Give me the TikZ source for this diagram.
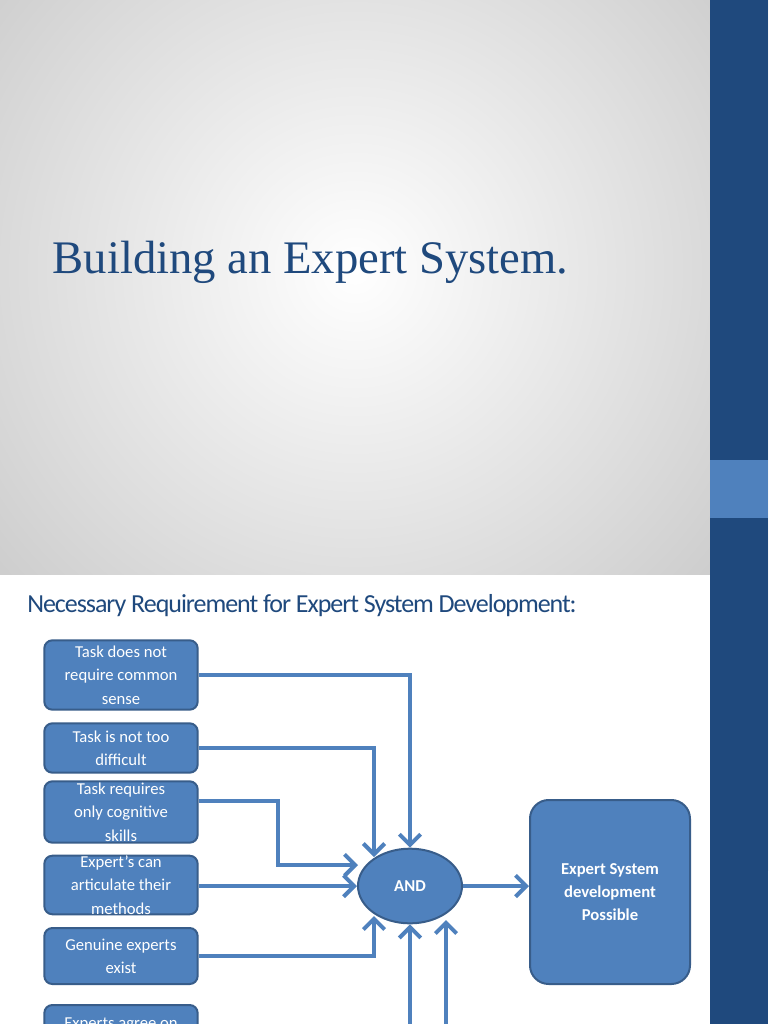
\documentclass[tikz,border=0pt]{standalone}
\usepackage{fontspec}
\setmainfont{Carlito}
\newfontfamily\titlefont{Liberation Serif}
\usetikzlibrary{arrows.meta,shapes.geometric}
\definecolor{sbblue}{HTML}{1F497D}
\definecolor{lblue}{HTML}{4F81BD}
\definecolor{dblue}{HTML}{385D8A}
\tikzset{
 req/.style={draw=dblue,line width=1.5pt,fill=lblue,rounded corners=6pt,minimum width=115pt,align=center,text=white,font=\fontsize{12.5}{17.5}\selectfont,inner sep=0pt},
 conn/.style={draw=lblue,line width=3pt,-{Straight Barb[length=8pt,width=16pt,line width=3pt]}},
}
\begin{document}
\begin{tikzpicture}[x=0.75pt,y=-0.75pt]
\useasboundingbox (0,0) rectangle (768,1024);
\begin{scope}
\clip (0,0) rectangle (768,1024);
\fill[white] (0,0) rectangle (768,1024);
\shade[inner color=white,outer color=black!25] (-250,-330) rectangle (960,870);
\fill[white] (0,575) rectangle (710,1024);
\fill[sbblue] (710,0) rectangle (768,1024);
\fill[lblue] (710,460) rectangle (768,518);
\node[anchor=west,text=sbblue,font=\titlefont\fontsize{35}{38}\selectfont] (title) at (48,262) {Building an Expert System.};
\node[anchor=west,text=sbblue,font=\fontsize{19.5}{22}\selectfont,inner sep=0pt] (sub) at (27,606) {\addfontfeature{LetterSpace=-4}Necessary Requirement for Expert System Development:};
\node[req,minimum height=52pt] (r1) at (121,675) {Task does not\\require common\\sense};
\node[req,minimum height=37pt] (r2) at (121,748) {Task is not too\\difficult};
\node[req,minimum height=46pt] (r3) at (121,812) {Task requires\\only cognitive\\skills};
\node[req,minimum height=42pt] (r4) at (121,885) {Expert’s can\\articulate their\\methods};
\node[req,minimum height=42pt] (r5) at (121,956) {Genuine experts\\exist};
\node[req,minimum height=42pt,anchor=north] (r6) at (121,1004) {\raisebox{-3pt}{Experts agree on}\\their solutions};
\node[draw=dblue,line width=1.5pt,fill=lblue,ellipse,minimum width=78pt,minimum height=56pt,text=white,font=\bfseries\fontsize{12.5}{14}\selectfont,inner sep=0pt] (and) at (410,886) {AND};
\node[draw=dblue,line width=1.5pt,fill=lblue,rounded corners=14pt,minimum width=120pt,minimum height=138pt,align=center,text=white,font=\bfseries\fontsize{12.5}{17}\selectfont] (out) at (610,892) {Expert System\\development\\Possible};
\coordinate (b1) at (410,1030);
\coordinate (b2) at (446,1030);
\draw[conn] (r1.east |- 0,675) -| (and.north);
\draw[conn] (r2.east) -| (374,857);
\draw[conn] (r3.east |- 0,801) -| (278,865) -- (358,865);
\draw[conn] (r4.east |- 0,886) -- (and.west);
\draw[conn] (r5.east) -| (374,916);
\draw[conn] (b1) -- (and.south);
\draw[conn] (b2) -- (446,920);
\draw[conn] (and.east) -- (out.west |- and.east);
\end{scope}
\end{tikzpicture}
\end{document}
